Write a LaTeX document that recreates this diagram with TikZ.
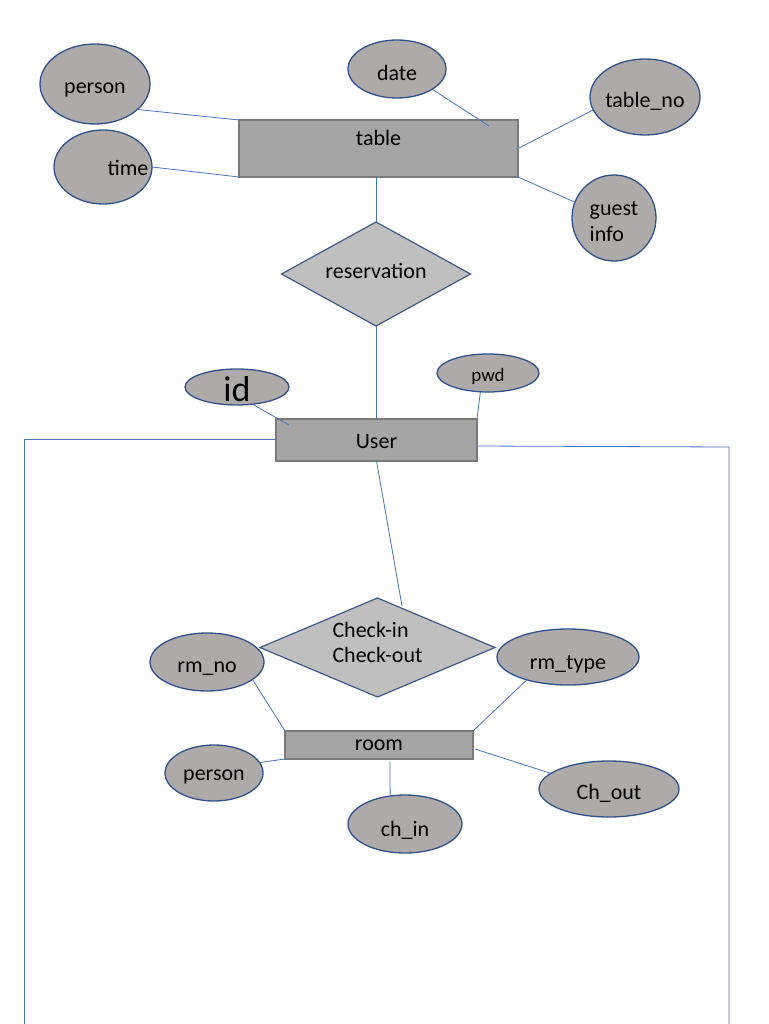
\documentclass[tikz,border=0pt]{standalone}
\usepackage{fontspec}
\setmainfont{Carlito}
\usetikzlibrary{shapes.geometric}
\definecolor{ellfill}{HTML}{AEAAAA}
\definecolor{ellline}{HTML}{2F528F}
\definecolor{entfill}{HTML}{A5A5A5}
\definecolor{entline}{HTML}{7A7A7A}
\definecolor{relfill}{HTML}{BFBFBF}
\definecolor{relline}{HTML}{3E5A8A}
\definecolor{linkcol}{HTML}{4472C4}
\begin{document}
\begin{tikzpicture}[x=1pt,y=-1pt,
  every node/.style={font=\fontsize{22}{26}\selectfont, outer sep=0pt},
  every label/.style={yshift=-4pt},
  attr/.style={ellipse, draw=ellline, fill=ellfill, line width=1.3pt, inner sep=0pt},
  ent/.style={rectangle, draw=entline, fill=entfill, line width=1.3pt, inner sep=0pt},
  rel/.style={diamond, draw=relline, fill=relfill, line width=1.2pt, inner sep=0pt, align=left},
  link/.style={draw=linkcol, line width=0.8pt}]
\useasboundingbox (0,0) rectangle (768,1024);

\coordinate (dateend) at (489,126);
\coordinate (idend) at (289,425);
\coordinate (ul1) at (24,439);
\coordinate (ul2) at (24,1024);
\coordinate (ur0) at (477,446);
\coordinate (ur1) at (729,447);
\coordinate (ur2) at (729,1024);
\coordinate (chkin) at (402,606);
\coordinate (chintop) at (390,762);
\coordinate (choutend) at (475,749);

% entities
\node[ent, minimum width=279, minimum height=57] (table) at (378.5,148.5) {\raisebox{21pt}{table}};
\node[ent, minimum width=201, minimum height=42] (User) at (376.5,440) {\raisebox{-2pt}[\height][\depth]{User}};
\node[ent, minimum width=188, minimum height=28] (room) at (379,745) {room};

% relationships
\node[rel, aspect=1.82, minimum width=189, minimum height=104] (res) at (376,274) {\raisebox{6pt}{reservation}};
\node[rel, aspect=2.37, minimum width=235, minimum height=99] (chk) at (377.5,647.5) {\raisebox{3pt}[\height][\depth]{\begin{tabular}{@{}l@{}}Check-in\\[-1pt]Check-out\end{tabular}}};

% attributes
\node[attr, minimum width=110, minimum height=80, label={[yshift=-2pt]center:person}] (person) at (95,84) {};
\node[attr, minimum width=98, minimum height=58, label=center:{date}] (date) at (397,69) {};
\node[attr, minimum width=110, minimum height=76, label=center:{table\_no}] (tableno) at (645,97) {};
\node[attr, minimum width=98, minimum height=74, label={[xshift=25pt, yshift=3pt]center:time}] (time) at (103,167) {};
\node[attr, minimum width=84, minimum height=86, label={[align=left]center:guest\\info}] (guest) at (614,218) {};
\node[attr, minimum width=104, minimum height=36, label={[font=\fontsize{36}{40}\selectfont, yshift=2pt]center:id}] (id) at (237,387) {};
\node[attr, minimum width=102, minimum height=38, label={[font=\fontsize{19}{22}\selectfont, yshift=1pt]center:pwd}] (pwd) at (488,373) {};
\node[attr, minimum width=114, minimum height=58, label={[yshift=-3pt]center:rm\_no}] (rmno) at (207,662) {};
\node[attr, minimum width=142, minimum height=56, label={[yshift=-3pt]center:rm\_type}] (rmtype) at (568,657) {};
\node[attr, minimum width=98, minimum height=56, label=center:{person}] (person2) at (214,773) {};
\node[attr, minimum width=114, minimum height=58, label={[yshift=-2pt]center:ch\_in}] (chin) at (405,824) {};
\node[attr, minimum width=140, minimum height=56, label=center:{Ch\_out}] (chout) at (609,789) {};

% connectors
\draw[link] (person.-31) -- (table.north west);
\draw[link] (time.east) -- (table.south west);
\draw[link] (date.-30) -- (dateend);
\draw[link] (tableno.194) -- (table.east);
\draw[link] (guest.158) -- (table.south east);
\draw[link] (table.south -| res.north) -- (res.north);
\draw[link] (res.south) -- (User.north -| res.south);
\draw[link] (id.-48) -- (idend);
\draw[link] (pwd.-112) -- (User.north east);
\draw[link] (User.west |- ul1) -- (ul1) -- (ul2);
\draw[link] (ur0) -- (ur1) -- (ur2);
\draw[link] (User.south) -- (chkin);
\draw[link] (rmno.-21) -- (room.north west);
\draw[link] (rmtype.209) -- (room.north east);
\draw[link] (person2.13) -- (room.south west);
\draw[link] (chin.118) -- (chintop);
\draw[link] (chout.165) -- (choutend);
\end{tikzpicture}
\end{document}
